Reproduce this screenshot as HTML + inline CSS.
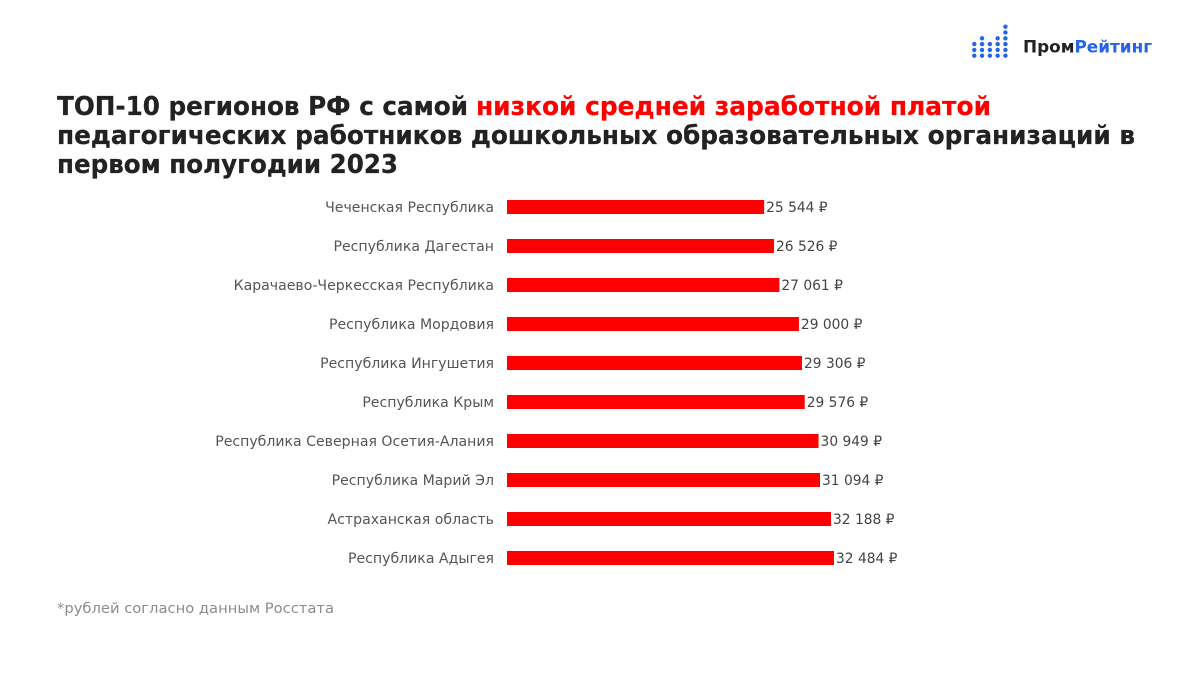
<!DOCTYPE html>
<html lang="ru">
<head>
<meta charset="utf-8">
<title>ТОП-10 регионов РФ</title>
<style>
html,body{margin:0;padding:0;background:#fff;width:1200px;height:675px;overflow:hidden}
svg{display:block}
.t{font-family:"DejaVu Sans","Liberation Sans",sans-serif;font-weight:700;font-size:25.5px;fill:#222;stroke:#222;stroke-width:.25}
.r{fill:#ff0000;stroke:#ff0000}
.cat{font-family:"DejaVu Sans","Liberation Sans",sans-serif;font-size:14.1px;fill:#555;text-anchor:end}
.val{font-family:"DejaVu Sans","Liberation Sans",sans-serif;font-size:13.8px;fill:#444}
</style>
</head>
<body>
<svg id="chart" width="1200" height="675" viewBox="0 0 1200 675" xmlns="http://www.w3.org/2000/svg">
  <rect x="0" y="0" width="1200" height="675" fill="#fff"/>
  <g id="logo-dots" fill="#2563eb"></g>
  <text x="1023" y="52.3" textLength="129" lengthAdjust="spacingAndGlyphs" font-family="'DejaVu Sans','Liberation Sans',sans-serif" font-weight="700" font-size="16.5"><tspan fill="#222">Пром</tspan><tspan fill="#2563eb">Рейтинг</tspan></text>
  <g>
    <text class="t" x="57" y="115" textLength="411" lengthAdjust="spacingAndGlyphs">ТОП-10 регионов РФ с самой</text>
    <text class="t r" x="476" y="115" textLength="515" lengthAdjust="spacingAndGlyphs">низкой средней заработной платой</text>
    <text class="t" x="57" y="144" textLength="1078" lengthAdjust="spacingAndGlyphs">педагогических работников дошкольных образовательных организаций в</text>
    <text class="t" x="57" y="173" textLength="341" lengthAdjust="spacingAndGlyphs">первом полугодии 2023</text>
  </g>
  <g id="rows"></g>
  <text x="57" y="613" textLength="277" lengthAdjust="spacingAndGlyphs" font-family="'DejaVu Sans','Liberation Sans',sans-serif" font-size="14.5" fill="#8c8c8c">*рублей согласно данным Росстата</text>
</svg>
<script>
const categories = ["Чеченская Республика","Республика Дагестан","Карачаево-Черкесская Республика","Республика Мордовия","Республика Ингушетия","Республика Крым","Республика Северная Осетия-Алания","Республика Марий Эл","Астраханская область","Республика Адыгея"];
const salaries = [25544,26526,27061,29000,29306,29576,30949,31094,32188,32484];
const logoColumnHeights = [3,4,3,4,6];

const NS = "http://www.w3.org/2000/svg";
const xScale = v => v * 327 / 32484;
const yCenter = i => 207 + i * 39;
const fmt = v => String(v).replace(/\B(?=(\d{3})+$)/g, " ") + " ₽";
const rows = document.getElementById("rows");

categories.forEach((name, i) => {
  const cy = yCenter(i);
  const v = salaries[i];

  const label = document.createElementNS(NS, "text");
  
  
  label.setAttribute("class", "cat");
  label.setAttribute("x", 494);
  label.setAttribute("y", cy + 5);
  label.textContent = name;
  rows.appendChild(label);

  const bar = document.createElementNS(NS, "rect");
  
  
  bar.setAttribute("x", 507);
  bar.setAttribute("y", cy - 7);
  bar.setAttribute("width", xScale(v));
  bar.setAttribute("height", 14);
  bar.setAttribute("fill", "#ff0000");
  rows.appendChild(bar);

  const value = document.createElementNS(NS, "text");
  
  
  value.setAttribute("class", "val");
  value.setAttribute("x", 507 + xScale(v) + 2);
  value.setAttribute("y", cy + 5);
  value.textContent = fmt(v);
  rows.appendChild(value);
});

const logo = document.getElementById("logo-dots");
logoColumnHeights.forEach((h, c) => {
  for (let r = 0; r < h; r++) {
    const dot = document.createElementNS(NS, "circle");
    
    
    dot.setAttribute("cx", 974.3 + c * 7.78);
    dot.setAttribute("cy", 55.7 - r * 5.8);
    dot.setAttribute("r", 2.2);
    logo.appendChild(dot);
  }
});
</script>
</body>
</html>
